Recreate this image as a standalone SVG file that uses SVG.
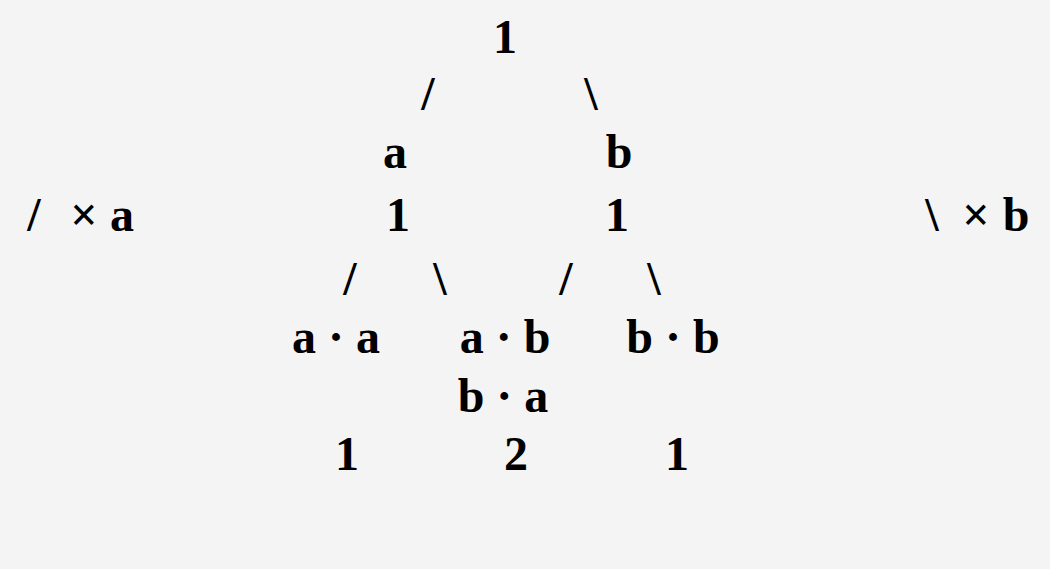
<svg xmlns="http://www.w3.org/2000/svg" width="1050" height="569" viewBox="0 0 1050 569">
<style>
text{font-family:"Liberation Serif","Times New Roman",serif;font-weight:bold;font-size:48px;fill:#000;text-anchor:middle}
</style>
<rect width="1050" height="569" fill="#f4f4f4"/>
<g id="connectors">
<text x="428" y="110">/</text>
<text x="591" y="110">\</text>
<text x="350" y="295">/</text>
<text x="440" y="295">\</text>
<text x="566" y="295">/</text>
<text x="654" y="295">\</text>
</g>
<g id="root"><text x="505" y="53">1</text></g>
<g id="node-a"><text x="395" y="168">a</text><text x="398" y="231">1</text></g>
<g id="node-b"><text x="619" y="168">b</text><text x="617" y="231">1</text></g>
<g id="label-left"><text x="34" y="231">/</text><text x="84" y="231">×</text><text x="122" y="231">a</text></g>
<g id="label-right"><text x="932" y="231">\</text><text x="976" y="231">×</text><text x="1016" y="231">b</text></g>
<g id="node-aa"><text x="336" y="353">a · a</text><text x="347" y="470">1</text></g>
<g id="node-ab"><text x="505" y="353">a · b</text><text x="503" y="412">b · a</text><text x="516" y="470">2</text></g>
<g id="node-bb"><text x="673" y="353">b · b</text><text x="677" y="470">1</text></g>
</svg>
